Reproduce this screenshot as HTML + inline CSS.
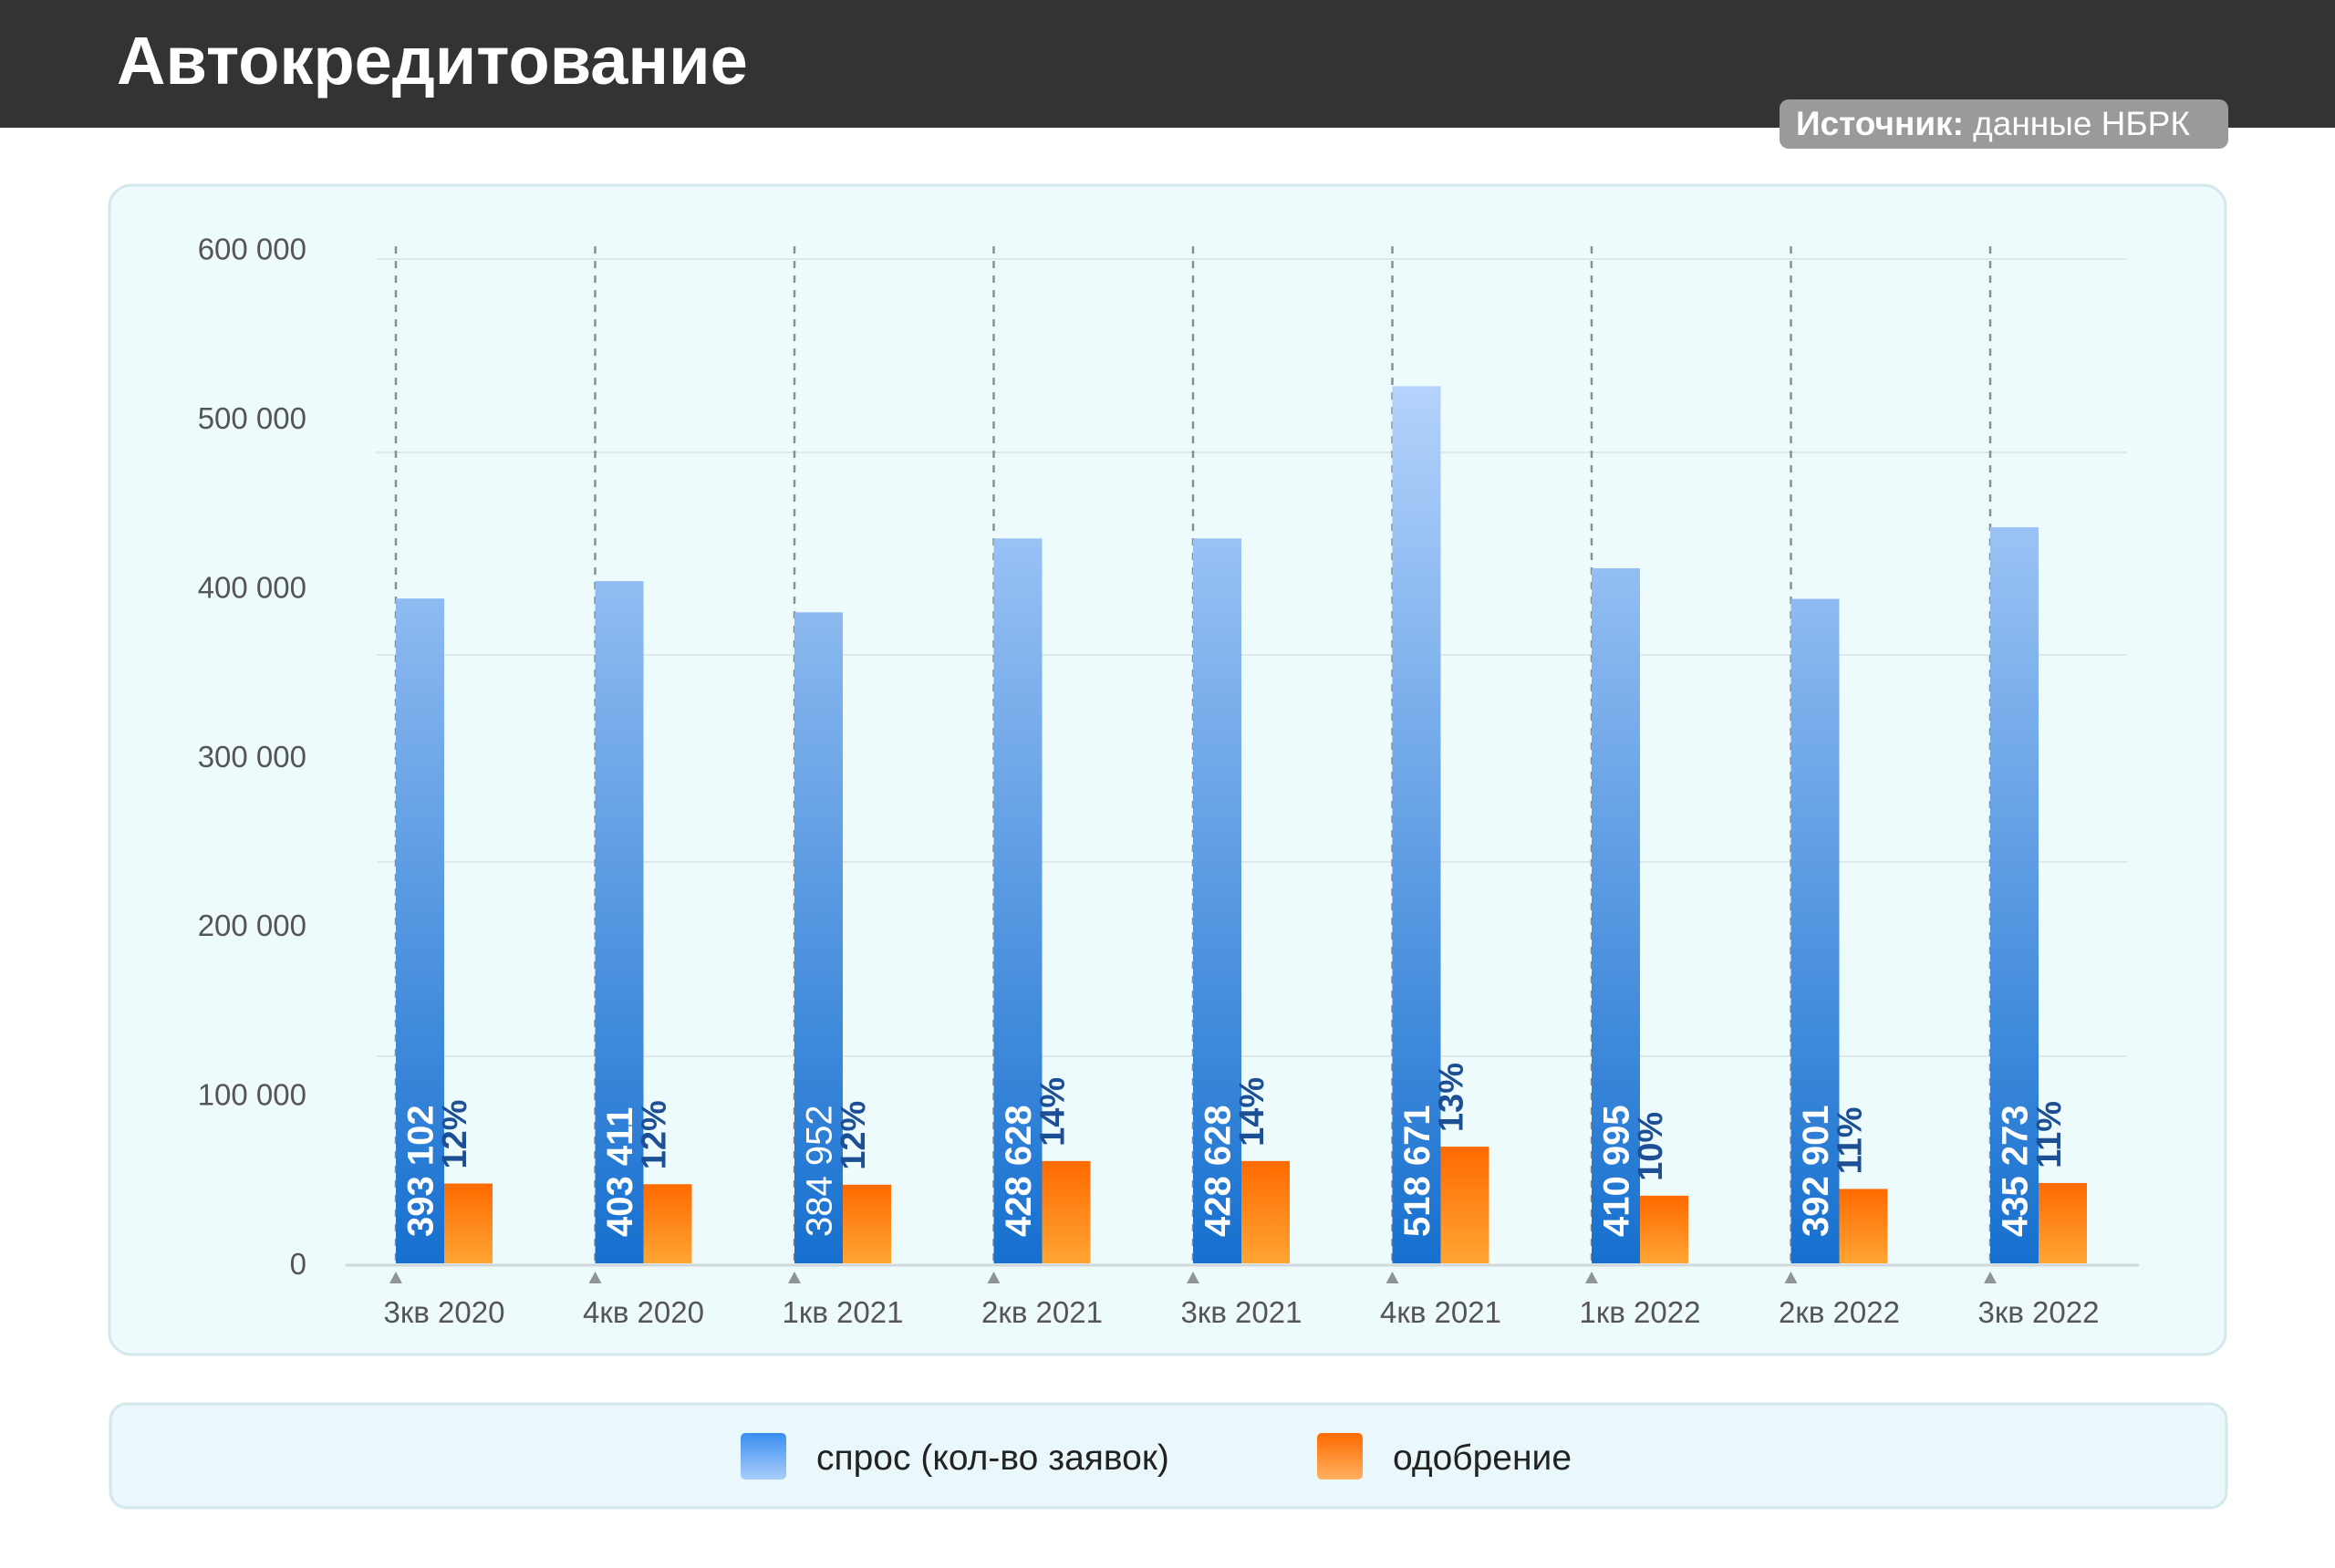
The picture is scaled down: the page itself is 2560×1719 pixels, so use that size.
<!DOCTYPE html>
<html><head><meta charset="utf-8"><style>
html,body{margin:0;padding:0;background:#fff;}
body{width:2560px;height:1719px;overflow:hidden;font-family:"Liberation Sans","DejaVu Sans",sans-serif;}
svg{display:block;}
</style></head><body>
<svg id="chart" width="2560" height="1719" viewBox="0 0 2560 1719" xmlns="http://www.w3.org/2000/svg">
<defs>
<linearGradient id="gBlue" gradientUnits="userSpaceOnUse" x1="0" y1="420" x2="0" y2="1385">
<stop offset="0" stop-color="#b5d3fc"/><stop offset="1" stop-color="#1670cf"/></linearGradient>
<linearGradient id="gOrange" x1="0" y1="0" x2="0" y2="1">
<stop offset="0" stop-color="#ff6a00"/><stop offset="1" stop-color="#ffa534"/></linearGradient>
<linearGradient id="gLegB" x1="0" y1="0" x2="0" y2="1"><stop offset="0" stop-color="#3a8ef0"/><stop offset="1" stop-color="#a9cdfb"/></linearGradient>
<linearGradient id="gLegO" x1="0" y1="0" x2="0" y2="1"><stop offset="0" stop-color="#ff6a00"/><stop offset="1" stop-color="#ffb060"/></linearGradient>
</defs>
<rect x="0" y="0" width="2560" height="140" fill="#333333"/>
<text x="128" y="92" font-size="74" font-weight="bold" fill="#ffffff">Автокредитование</text>
<rect x="1951" y="109" width="492" height="54" rx="10" fill="#9a9a9a"/>
<text x="1969" y="148" font-size="37" fill="#ffffff"><tspan font-weight="bold">Источник:</tspan> данные НБРК</text>
<rect x="120" y="203" width="2320" height="1282" rx="24" fill="#eefbfd" stroke="#d3e8ec" stroke-width="3"/>
<g id="grid"></g><g id="yaxis"></g><g id="bars"></g><g id="xaxis"></g>
<rect x="121" y="1539" width="2320" height="114" rx="18" fill="#eaf8fc" stroke="#d3e8ec" stroke-width="3"/>
<rect x="812" y="1571" width="50" height="51" rx="5" fill="url(#gLegB)"/>
<text x="895" y="1611" font-size="39" fill="#222">спрос (кол-во заявок)</text>
<rect x="1444" y="1571" width="50" height="51" rx="5" fill="url(#gLegO)"/>
<text x="1527" y="1611" font-size="39" fill="#222">одобрение</text>
</svg>
<script>
const categories = ["3кв 2020","4кв 2020","1кв 2021","2кв 2021","3кв 2021","4кв 2021","1кв 2022","2кв 2022","3кв 2022"];
const demand = [393102,403411,384952,428628,428628,518671,410995,392901,435273];
const approval = [47200,46800,46500,60500,60500,69000,40000,44000,47500];
const percents = ["12%","12%","12%","14%","14%","13%","10%","11%","11%"];
const demandLabels = ["393 102","403 411","384 952","428 628","428 628","518 671","410 995","392 901","435 273"];
const yTicks = [0,100000,200000,300000,400000,500000,600000];
const yTickLabels = ["0","100 000","200 000","300 000","400 000","500 000","600 000"];
const gridY = [284,496,718,945,1158];
const NS="http://www.w3.org/2000/svg";
const baseY=1385, pxPerUnit=185.4/100000;
const y = v => baseY - v*pxPerUnit;
const x0=434, step=218.5, bw=53;
const xg = i => x0 + i*step;
function mk(tag, attrs, parent, txt){const e=document.createElementNS(NS,tag);for(const k in attrs)e.setAttribute(k,attrs[k]);if(txt!==undefined)e.textContent=txt;parent.appendChild(e);return e;}
const grid=document.getElementById('grid'), ya=document.getElementById('yaxis'), bars=document.getElementById('bars'), xa=document.getElementById('xaxis');
gridY.forEach(gy=>{const l=mk('line',{x1:413,x2:2332,y1:gy,y2:gy,stroke:'#dde9ec','stroke-width':2},grid);

});
yTicks.forEach((t,i)=>{const e=mk('text',{x:336,y:y(t)+12,'font-size':33,fill:'#555','text-anchor':'end'},ya,yTickLabels[i]);

});
const base=mk('line',{x1:379,x2:2345,y1:baseY+2,y2:baseY+2,stroke:'#d0d8dc','stroke-width':3},xa);


categories.forEach((c,i)=>{
 const bx=xg(i);
 const dl=mk('line',{x1:bx,x2:bx,y1:270,y2:baseY,stroke:'#8a8f93','stroke-width':2.5,'stroke-dasharray':'8 8'},grid);
 
 
 const b=mk('rect',{x:bx,y:y(demand[i]),width:bw,height:baseY-y(demand[i]),fill:'url(#gBlue)'},bars);
 
 
 const o=mk('rect',{x:bx+bw,y:y(approval[i]),width:bw,height:baseY-y(approval[i]),fill:'url(#gOrange)'},bars);
 
 
 const vx=bx+bw/2+14, vy=1356;
 const vt=mk('text',{x:vx,y:vy,'font-size':40,'font-weight':i===2?'normal':'bold',fill:'#ffffff',transform:`rotate(-90 ${vx} ${vy})`},bars,demandLabels[i]);
 
 
 const px=bx+bw+24, py=y(approval[i])-16;
 const pt=mk('text',{x:px,y:py,'font-size':38,'font-weight':'bold',fill:'#1d4f94',transform:`rotate(-90 ${px} ${py})`},bars,percents[i]);
 
 
 const tr=mk('polygon',{points:`${bx-7},${baseY+22} ${bx+7},${baseY+22} ${bx},${baseY+9}`,fill:'#8f9498'},xa);
 
 
 const xl=mk('text',{x:bx+bw,y:1450,'font-size':33,fill:'#555','text-anchor':'middle'},xa,c);
 
 
});
</script>
</body></html>
